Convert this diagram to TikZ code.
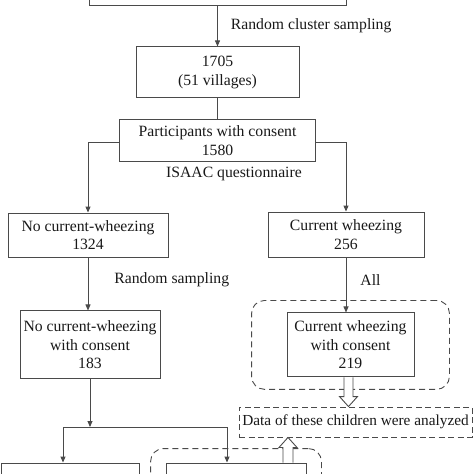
\documentclass[tikz,border=0pt]{standalone}
\usepackage{fontspec}
\setmainfont{Liberation Serif}
\usetikzlibrary{positioning, arrows.meta, fit, backgrounds, calc}
\definecolor{linegray}{HTML}{4A4A4A}
\newcommand{\flowfont}{\fontsize{15.7}{18.7}\selectfont}
\tikzset{
  box/.style    ={rectangle, draw=linegray, line width=0.9pt, fill=white,
    align=center, inner sep=1pt, font=\flowfont, text=black!90},
  databox/.style={box, dash pattern=on 6pt off 3.5pt, inner sep=0pt,
    font=\fontsize{15.3}{18}\selectfont},
  group/.style  ={draw=linegray, line width=0.9pt, dash pattern=on 6pt off 4pt,
    rounded corners=13pt},
  lbl/.style    ={font=\flowfont, text=black!90, inner sep=0pt},
  link/.style   ={linegray, line width=0.9pt},
  arrow/.style  ={link, -{Triangle[length=6pt, width=5pt]}},
  hollow/.style ={draw=linegray, line width=0.9pt, fill=white, line join=miter},
}

\begin{document}
\begin{tikzpicture}[x=1pt, y=-1pt]

  \clip[use as bounding box] (0,0) rectangle (474,474);

  \node[box, minimum width=257pt, minimum height=50pt] (pop) at (217.5,-20) {};
  \node[box, below=41pt of pop, minimum width=163pt, minimum height=51pt]
    (villages) {1705\\(51 villages)};
  \node[box, below=21pt of villages, minimum width=196pt, minimum height=42pt]
    (consent) {Participants with consent\\1580};
  \node[box, minimum width=160pt, minimum height=44pt] (nowheeze) at (88,235)
    {No current-wheezing\\1324};
  \node[box, minimum width=156pt, minimum height=45pt] (wheeze) at (346,234.5)
    {Current wheezing\\256};
  \node[box, below=53pt of nowheeze, xshift=2pt, minimum width=140pt,
    minimum height=68pt] (nocons) {No current-wheezing\\with consent\\183};
  \node[box, below=55pt of wheeze, xshift=4.5pt, minimum width=127pt,
    minimum height=64pt] (wcons) {Current wheezing\\with consent\\219};
  \node[databox, minimum width=233pt, minimum height=30pt] (data) at (355.5,422)
    {Data of these children were analyzed};
  \node[box, minimum width=138pt, minimum height=40pt] (bleft)  at (70,483)  {};
  \node[box, minimum width=140pt, minimum height=40pt] (bright) at (236,483) {};

  \node[lbl] (isaac) at (234,174) {ISAAC questionnaire};

  \coordinate (split)  at (90,427);
  \coordinate (splitL) at (63,427);
  \coordinate (splitR) at (227,427);

  \draw[arrow] (pop) -- node[lbl, anchor=west, xshift=13pt]
    {Random cluster sampling} (villages);
  \draw[link]  (villages.south) -- (villages.south |- consent.north);
  \draw[arrow] ([yshift=-2pt]consent.west) -| (nowheeze);
  \draw[arrow] ([yshift=-2pt]consent.east) -| (wheeze);
  \draw[arrow] (nowheeze) -- node[lbl, anchor=west, xshift=26pt, yshift=4.5pt]
    {Random sampling} (nowheeze |- nocons.north);
  \draw[arrow] (wheeze) -- node[lbl, anchor=west, xshift=14pt, yshift=5pt]
    {All} (wheeze |- wcons.north);
  \draw[arrow] (nocons) -- (split);
  \draw[link]  (splitL) -- (splitR);
  \draw[arrow] (splitL) -- (splitL |- bleft.north);
  \draw[arrow] (splitR) -- (splitR |- bright.north);

  % dashed groups of analysed children
  \begin{scope}[on background layer]
    \node[group, fit=(wcons), inner xsep=35pt, inner ysep=12pt] (grp1) {};
    \node[group, fit=(bright), inner xsep=15pt, inner ysep=14pt] (grp2) {};
  \end{scope}

  % hollow arrows into the data box
  \coordinate (h1s) at ([xshift=-2pt]wcons.south);
  \coordinate (h1e) at (h1s |- data.north);
  \draw[hollow] ($(h1s)+(-4.5,0)$) -- ($(h1e)+(-4.5,-10)$) -- ($(h1e)+(-9,-10)$)
    -- (h1e) -- ($(h1e)+(9,-10)$) -- ($(h1e)+(4.5,-10)$) -- ($(h1s)+(4.5,0)$);
  \coordinate (h2s) at ([xshift=52pt]bright.north);
  \coordinate (h2e) at (h2s |- data.south);
  \draw[hollow] ($(h2s)+(-5,0)$) -- ($(h2e)+(-5,10)$) -- ($(h2e)+(-9,10)$)
    -- (h2e) -- ($(h2e)+(9,10)$) -- ($(h2e)+(5,10)$) -- ($(h2s)+(5,0)$);

\end{tikzpicture}
\end{document}
